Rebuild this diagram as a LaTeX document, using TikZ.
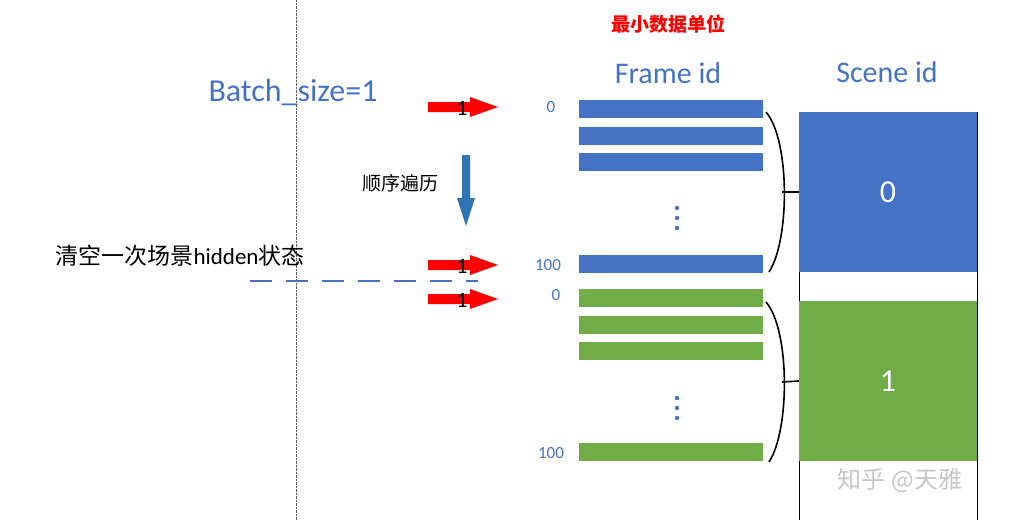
\documentclass[tikz,border=0pt]{standalone}
\usepackage{fontspec}
\setmainfont{Carlito}
\newfontfamily\cjk{Noto Sans CJK SC}
\usetikzlibrary{arrows.meta}
\definecolor{mblue}{HTML}{4472C4}
\definecolor{mgreen}{HTML}{70AD47}
\definecolor{dblue}{HTML}{2E75B6}
\begin{document}
\begin{tikzpicture}[x=1pt,y=-1pt,
  bar/.style={fill=#1,draw=none},
  redarr/.style={draw=none,fill=red},
  lbl/.style={text=mblue,font=\fontsize{17}{17}\selectfont},
  one/.style={font=\fontsize{22}{22}\selectfont}]
\useasboundingbox (0,0) rectangle (1015,520);
\draw[densely dotted,gray!70!black] (296,0) -- (296,520);
\node[text=red,font=\cjk\bfseries\fontsize{19}{19}\selectfont] (title) at (668,24) {最小数据单位};
\node[text=mblue,font=\fontsize{30}{30}\selectfont] (fid) at (668,73) {Frame id};
\node[text=mblue,font=\fontsize{30}{30}\selectfont] (sid) at (887,72) {Scene id};
\node[text=mblue,font=\fontsize{32}{32}\selectfont] (bs) at (293,93) {Batch\_size=1};
\node[font=\cjk\fontsize{19}{19}\selectfont] (trav) at (400,183) {顺序遍历};
\node[font=\cjk\fontsize{23}{23}\selectfont,anchor=west] (clr) at (52,256) {清空一次场景\fontspec{Carlito}hidden\cjk 状态};
\draw[mblue,line width=2pt,dash pattern=on 22pt off 14pt] (250,281) -- (478,281);
% red arrows
\foreach \y/\n in {107/a1,265/a2,299/a3}{
  \fill[red] (428,\y-5) -- (470,\y-5) -- (470,\y-10) -- (498,\y) -- (470,\y+10) -- (470,\y+5) -- (428,\y+5) -- cycle;
  \node[one] (\n) at (462,\y+1) {1};
}
% blue down arrow
\fill[dblue] (462,155) -- (470,155) -- (470,198) -- (475,198) -- (466,226) -- (457,198) -- (462,198) -- cycle;
% labels
\node[lbl] (l0) at (551,107) {0};
\node[lbl] (l100) at (548,265) {100};
\node[lbl] (g0) at (556,295) {0};
\node[lbl] (g100) at (551,453) {100};
% bars
\foreach \t in {100,127,153,255} \fill[mblue] (579,\t) rectangle (763,\t+18);
\foreach \t in {289,316,342,443} \fill[mgreen] (579,\t) rectangle (763,\t+18);
\foreach \y in {208,218,228,398,408,418} \fill[mblue] (677,\y) circle (2.2);
% column lines
\draw[black,line width=0.8pt] (799,112) -- (799,520) (977,112) -- (977,520);
% scene boxes
\node[fill=mblue,minimum width=178pt,minimum height=160pt,inner sep=0pt,text=white,font=\fontsize{32}{32}\selectfont] (s0) at (888,192) {0};
\node[fill=mgreen,minimum width=178pt,minimum height=160pt,inner sep=0pt,text=white,font=\fontsize{32}{32}\selectfont] (s1) at (888,381) {1};
% braces
\draw[line width=1.6pt] (766,112) .. controls (790,140) and (790,240) .. (769,272);
\draw[line width=1.6pt] (782,192) -- (s0.west);
\draw[line width=1.6pt] (766,302) .. controls (790,330) and (790,430) .. (769,462);
\draw[line width=1.6pt] (782,382) -- (s1.west);
\node[text=gray!45,font=\cjk\fontsize{24}{24}\selectfont] (wm) at (900,480) {知乎 @天雅};
\end{tikzpicture}
\end{document}
